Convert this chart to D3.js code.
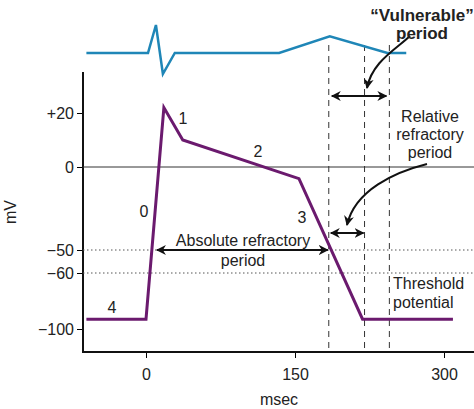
<!DOCTYPE html><html><head><meta charset="utf-8"><script src="https://cdn.jsdelivr.net/npm/d3@7"></script>
<style>body{margin:0;background:#fff}text{font-family:"Liberation Sans",Arial,sans-serif;fill:#222}</style></head><body><svg id="c" width="474" height="409"></svg>
<script>
const apTime=[-60,0,18,37,154,218,309];
const apMv=[-93,-93,22,10,-7,-93,-93];
const ecgTime=[-60,2,10,17,29,134,185,243,262];
const ecgVal=[0,0,1,-0.75,0,0,0.6,0,0];
const yTicks=[20,0,-50,-60,-100];
const yTickLabels=["+20","0","\u221250","\u221260","\u2212100"];
const xTicks=[0,150,300];
const periodLines=[184,220,245];
const svg=d3.select("#c");
const x=d3.scaleLinear().domain([0,150]).range([146,295]);
const y=d3.scaleLinear().domain([-100,-60,-50,0,20]).range([329,273,250,167,113]);
const ye=d3.scaleLinear().domain([0,1]).range([53,25]);
const defs=svg.append("defs");
defs.append("marker").attr("id","ah").attr("viewBox","0 0 10 10").attr("refX",9).attr("refY",5).attr("markerWidth",10).attr("markerHeight",10).attr("orient","auto-start-reverse").attr("markerUnits","userSpaceOnUse")
 .append("path").attr("d","M0,0 L10,5 L0,10 L3,5 Z").attr("fill","#111");
const yAx=svg.append("g").attr("transform","translate(83,0)").call(d3.axisLeft(y).tickValues(yTicks).tickFormat((d,i)=>yTickLabels[i]).tickSize(6).tickSizeOuter(0));
yAx.select(".domain").remove();
svg.append("line").attr("x1",83).attr("x2",83).attr("y1",72).attr("y2",353).attr("stroke","#111").attr("stroke-width",2);
const xAx=svg.append("g").attr("transform","translate(0,352)").call(d3.axisBottom(x).tickValues(xTicks).tickSize(6));
xAx.select(".domain").remove();
svg.append("line").attr("x1",82).attr("x2",474).attr("y1",352).attr("y2",352).attr("stroke","#111").attr("stroke-width",2);
svg.selectAll(".tick text").attr("font-size",16).style("font-family","Liberation Sans, Arial").attr("fill","#222");
xAx.selectAll(".tick text").attr("dy","1.2em");
svg.append("text").attr("transform","translate(16,212) rotate(-90)").attr("text-anchor","middle").attr("font-size",16).text("mV");
svg.append("text").attr("x",279).attr("y",405).attr("text-anchor","middle").attr("font-size",16).text("msec");
svg.append("line").attr("x1",83).attr("x2",474).attr("y1",y(0)).attr("y2",y(0)).attr("stroke","#333").attr("stroke-width",1);
[-50,-60].forEach(v=>svg.append("line").attr("x1",83).attr("x2",474).attr("y1",y(v)).attr("y2",y(v)).attr("stroke","#555").attr("stroke-dasharray","1.5,2.5"));
periodLines.forEach(t=>svg.append("line").attr("x1",x(t)).attr("x2",x(t)).attr("y1",45).attr("y2",352).attr("stroke","#333").attr("stroke-dasharray","6,5"));
svg.append("path").datum(ecgTime.map((t,i)=>[t,ecgVal[i]])).attr("d",d3.line().x(d=>x(d[0])).y(d=>ye(d[1]))).attr("fill","none").attr("stroke","#1f86b7").attr("stroke-width",2.5);
svg.append("path").datum(apTime.map((t,i)=>[t,apMv[i]])).attr("d",d3.line().x(d=>x(d[0])).y(d=>y(d[1]))).attr("fill","none").attr("stroke","#6b1a6e").attr("stroke-width",3);
function darrow(x1,x2,yy){svg.append("line").attr("x1",x1).attr("x2",x2).attr("y1",yy).attr("y2",yy).attr("stroke","#111").attr("stroke-width",2).attr("marker-start","url(#ah)").attr("marker-end","url(#ah)");}
darrow(x(11),x(184)-1,y(-50));
darrow(x(184)+2,x(220)-1,233);
darrow(x(185)+2,x(243)-1,96);
svg.append("path").attr("d","M410,36 C395,50 372,62 367,88").attr("fill","none").attr("stroke","#111").attr("stroke-width",2).attr("marker-end","url(#ah)");
svg.append("path").attr("d","M427,164 C395,172 355,190 347,225").attr("fill","none").attr("stroke","#111").attr("stroke-width",2).attr("marker-end","url(#ah)");
function t(xx,yy,s,opt={}){svg.append("text").attr("x",xx).attr("y",yy).attr("text-anchor",opt.a||"middle").attr("font-size",opt.fs||16).attr("font-weight",opt.b?"bold":"normal").text(s);}
t(422,21,"\u201cVulnerable\u201d",{b:1,fs:17});
t(422,39,"period",{b:1,fs:17});
t(430,122,"Relative");t(430,140,"refractory");t(430,158,"period");
t(243,246,"Absolute refractory");t(243,266,"period");
t(393,289,"Threshold",{a:"start"});t(393,308,"potential",{a:"start"});
t(183,124,"1");t(258,157,"2");t(144,217,"0");t(302,223,"3");t(112,313,"4");
</script></body></html>
